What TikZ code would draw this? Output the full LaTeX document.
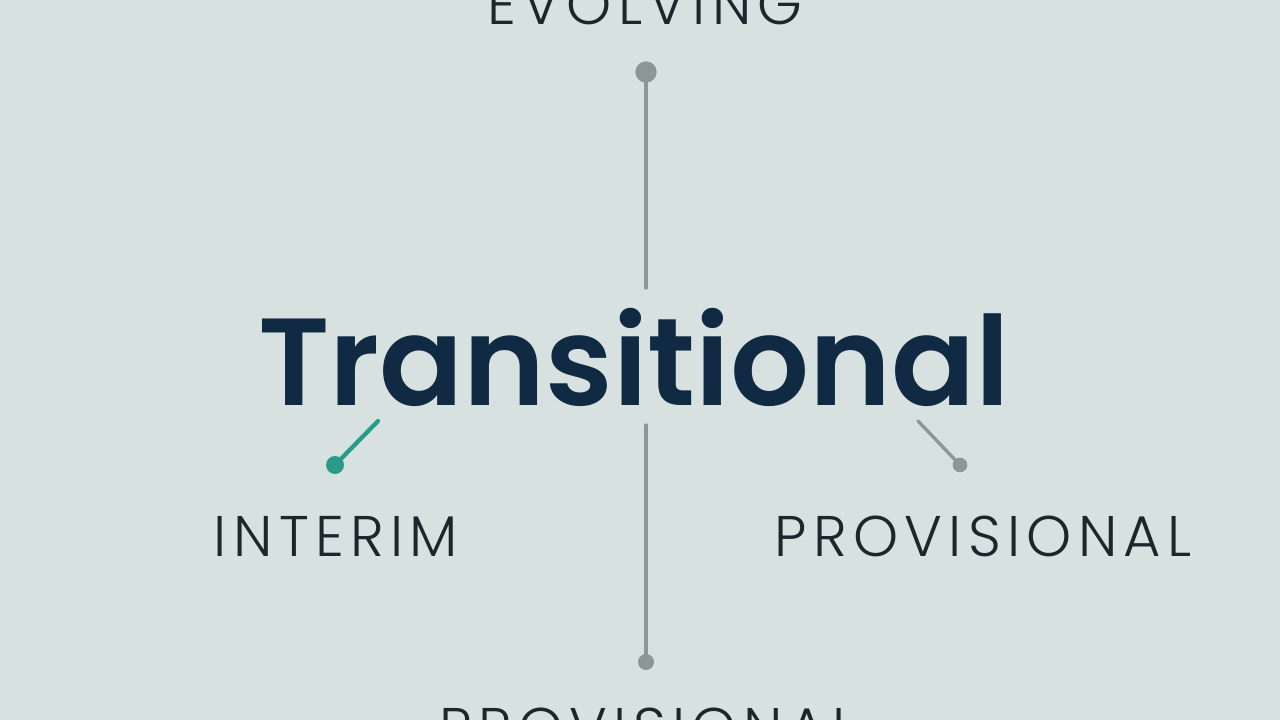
\documentclass[tikz,border=0pt]{standalone}
\usepackage{fontspec}
\setmainfont{Poppins}
\newfontfamily\poplight[LetterSpace=11]{Poppins Light}
\newfontfamily\popsemi{Poppins SemiBold}
\definecolor{bg}{HTML}{D7E2E0}
\definecolor{navy}{HTML}{0F2A42}
\definecolor{labelc}{HTML}{1A282E}
\definecolor{greyl}{HTML}{8C9696}
\definecolor{teal}{HTML}{2A9A8A}
\begin{document}
\begin{tikzpicture}[x=0.75pt,y=-0.75pt,
  label/.style={text=labelc,font=\poplight\fontsize{43}{43}\selectfont,inner sep=0pt,anchor=base},
  stem/.style={line width=2.5pt,line cap=round},
  dotn/.style={circle,inner sep=0pt,minimum size=#1}]
\fill[bg] (0,0) rectangle (1280,720);
\useasboundingbox (0,0) rectangle (1280,720);
% texts
\node[label] (evolving) at (645,25) {EVOLVING};
\node[text=navy,font=\popsemi\fontsize{93}{93}\selectfont,inner sep=0pt,anchor=base] (title) at (634,405) {Transitional};
\node[label] (interim) at (336,556) {INTERIM};
\node[label] (prov) at (983,556) {PROVISIONAL};
\node[label] (provb) at (648,748) {PROVISIONAL};
% dots
\node[dotn=16pt,fill=greyl] (dtop) at (646,72) {};
\node[dotn=12pt,fill=greyl] (dbot) at (646,662) {};
\node[dotn=13.5pt,fill=teal] (dleft) at (335,465) {};
\node[dotn=11pt,fill=greyl] (dright) at (960,465) {};
\coordinate (ctop) at (646,288);
\coordinate (cbot) at (646,425);
\coordinate (cleft) at (378,421);
\coordinate (cright) at (918,421);
% lines
\draw[stem,greyl] (dtop.center) -- (ctop);
\draw[stem,greyl] (cbot) -- (dbot.center);
\draw[stem,teal,line width=3.2pt] (cleft) -- (dleft.center);
\draw[stem,greyl] (cright) -- (dright.center);
\end{tikzpicture}
\end{document}
